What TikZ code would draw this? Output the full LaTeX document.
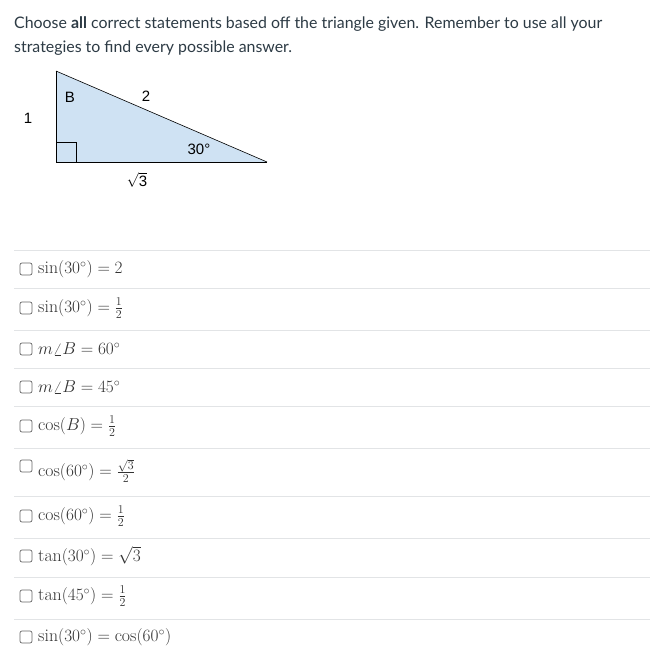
\documentclass[tikz,border=0pt]{standalone}
\usepackage{fontspec}
\usepackage{amsmath}
\newfontfamily\latofont{Lato}
\newfontfamily\arialfont{Liberation Sans}
\definecolor{txt}{HTML}{2D3B45}
\definecolor{mtxt}{HTML}{333333}
\definecolor{tri}{HTML}{CFE2F3}
\definecolor{sep}{HTML}{E2E4E6}
\tikzset{
  header/.style={anchor=base west, inner sep=0pt, text=txt, font=\latofont\fontsize{15.9}{18}\selectfont},
  trilabel/.style={inner sep=0pt, text=black, font=\arialfont\fontsize{15}{18}\selectfont},
  sepline/.style={draw=sep, line width=0.8pt},
  cbox/.style={draw=black!60, line width=0.7pt, rounded corners=2pt, minimum size=12pt, inner sep=0pt, fill=white},
  item/.style={anchor=west, inner sep=0pt, text=mtxt, font=\fontsize{17.8}{20}\selectfont}
}
\begin{document}
\begin{tikzpicture}[x=1pt,y=-1pt]
\useasboundingbox (0,0) rectangle (650,657);
\fill[white] (0,0) rectangle (650,657);
% header
\node[header] (h1) at (14,28) {Choose \textbf{all} correct statements based off the triangle given. Remember to use all your};
\node[header] (h2) at (14,52) {strategies to find every possible answer.};
% triangle
\coordinate (A) at (56,71);
\coordinate (C) at (56,162);
\coordinate (R) at (267,162);
\fill[tri] (A) -- (C) -- (R) -- cycle;
\draw[black, line width=0.6pt] (A) -- (R);
\draw[black, line width=1pt] (A) -- (C) -- (R);
\draw[black, line width=0.8pt] (56,142) -- (76,142) -- (76,162);
\node[trilabel] (lB) at (70,97) {B};
\node[trilabel] (l2) at (146,96) {2};
\node[trilabel] (l1) at (28,118) {1};
\node[trilabel] (l30) at (199,149) {30°};
\node[trilabel] (ls3) at (137,180) {$\sqrt{\text{\arialfont 3}}$};
% separators
\foreach \yy/\nm in {250/s0,288/s1,330/s2,368/s3,406/s4,448/s5,496/s6,538/s7,577/s8,619/s9}{
  \draw[sepline] (14,\yy) -- (650,\yy);
}
% items
\node[cbox] (c1) at (26,269) {};
\node[item] (t1) at (38,269) {$\sin(30^\circ) = 2$};
\node[cbox] (c2) at (26,308) {};
\node[item] (t2) at (38,308) {$\sin(30^\circ) = \frac{1}{2}$};
\node[cbox] (c3) at (26,349) {};
\node[item] (t3) at (38,349) {$m\angle B = 60^\circ$};
\node[cbox] (c4) at (26,387) {};
\node[item] (t4) at (38,387) {$m\angle B = 45^\circ$};
\node[cbox] (c5) at (26,426) {};
\node[item] (t5) at (38,426) {$\cos(B) = \frac{1}{2}$};
\node[cbox] (c6) at (26,466) {};
\node[item] (t6) at (38,471) {$\cos(60^\circ) = \frac{\sqrt{3}}{2}$};
\node[cbox] (c7) at (26,516) {};
\node[item] (t7) at (38,516) {$\cos(60^\circ) = \frac{1}{2}$};
\node[cbox] (c8) at (26,556) {};
\node[item] (t8) at (38,556) {$\tan(30^\circ) = \sqrt{3}$};
\node[cbox] (c9) at (26,596) {};
\node[item] (t9) at (38,596) {$\tan(45^\circ) = \frac{1}{2}$};
\node[cbox] (c10) at (26,637) {};
\node[item] (t10) at (38,637) {$\sin(30^\circ) = \cos(60^\circ)$};
\end{tikzpicture}
\end{document}
